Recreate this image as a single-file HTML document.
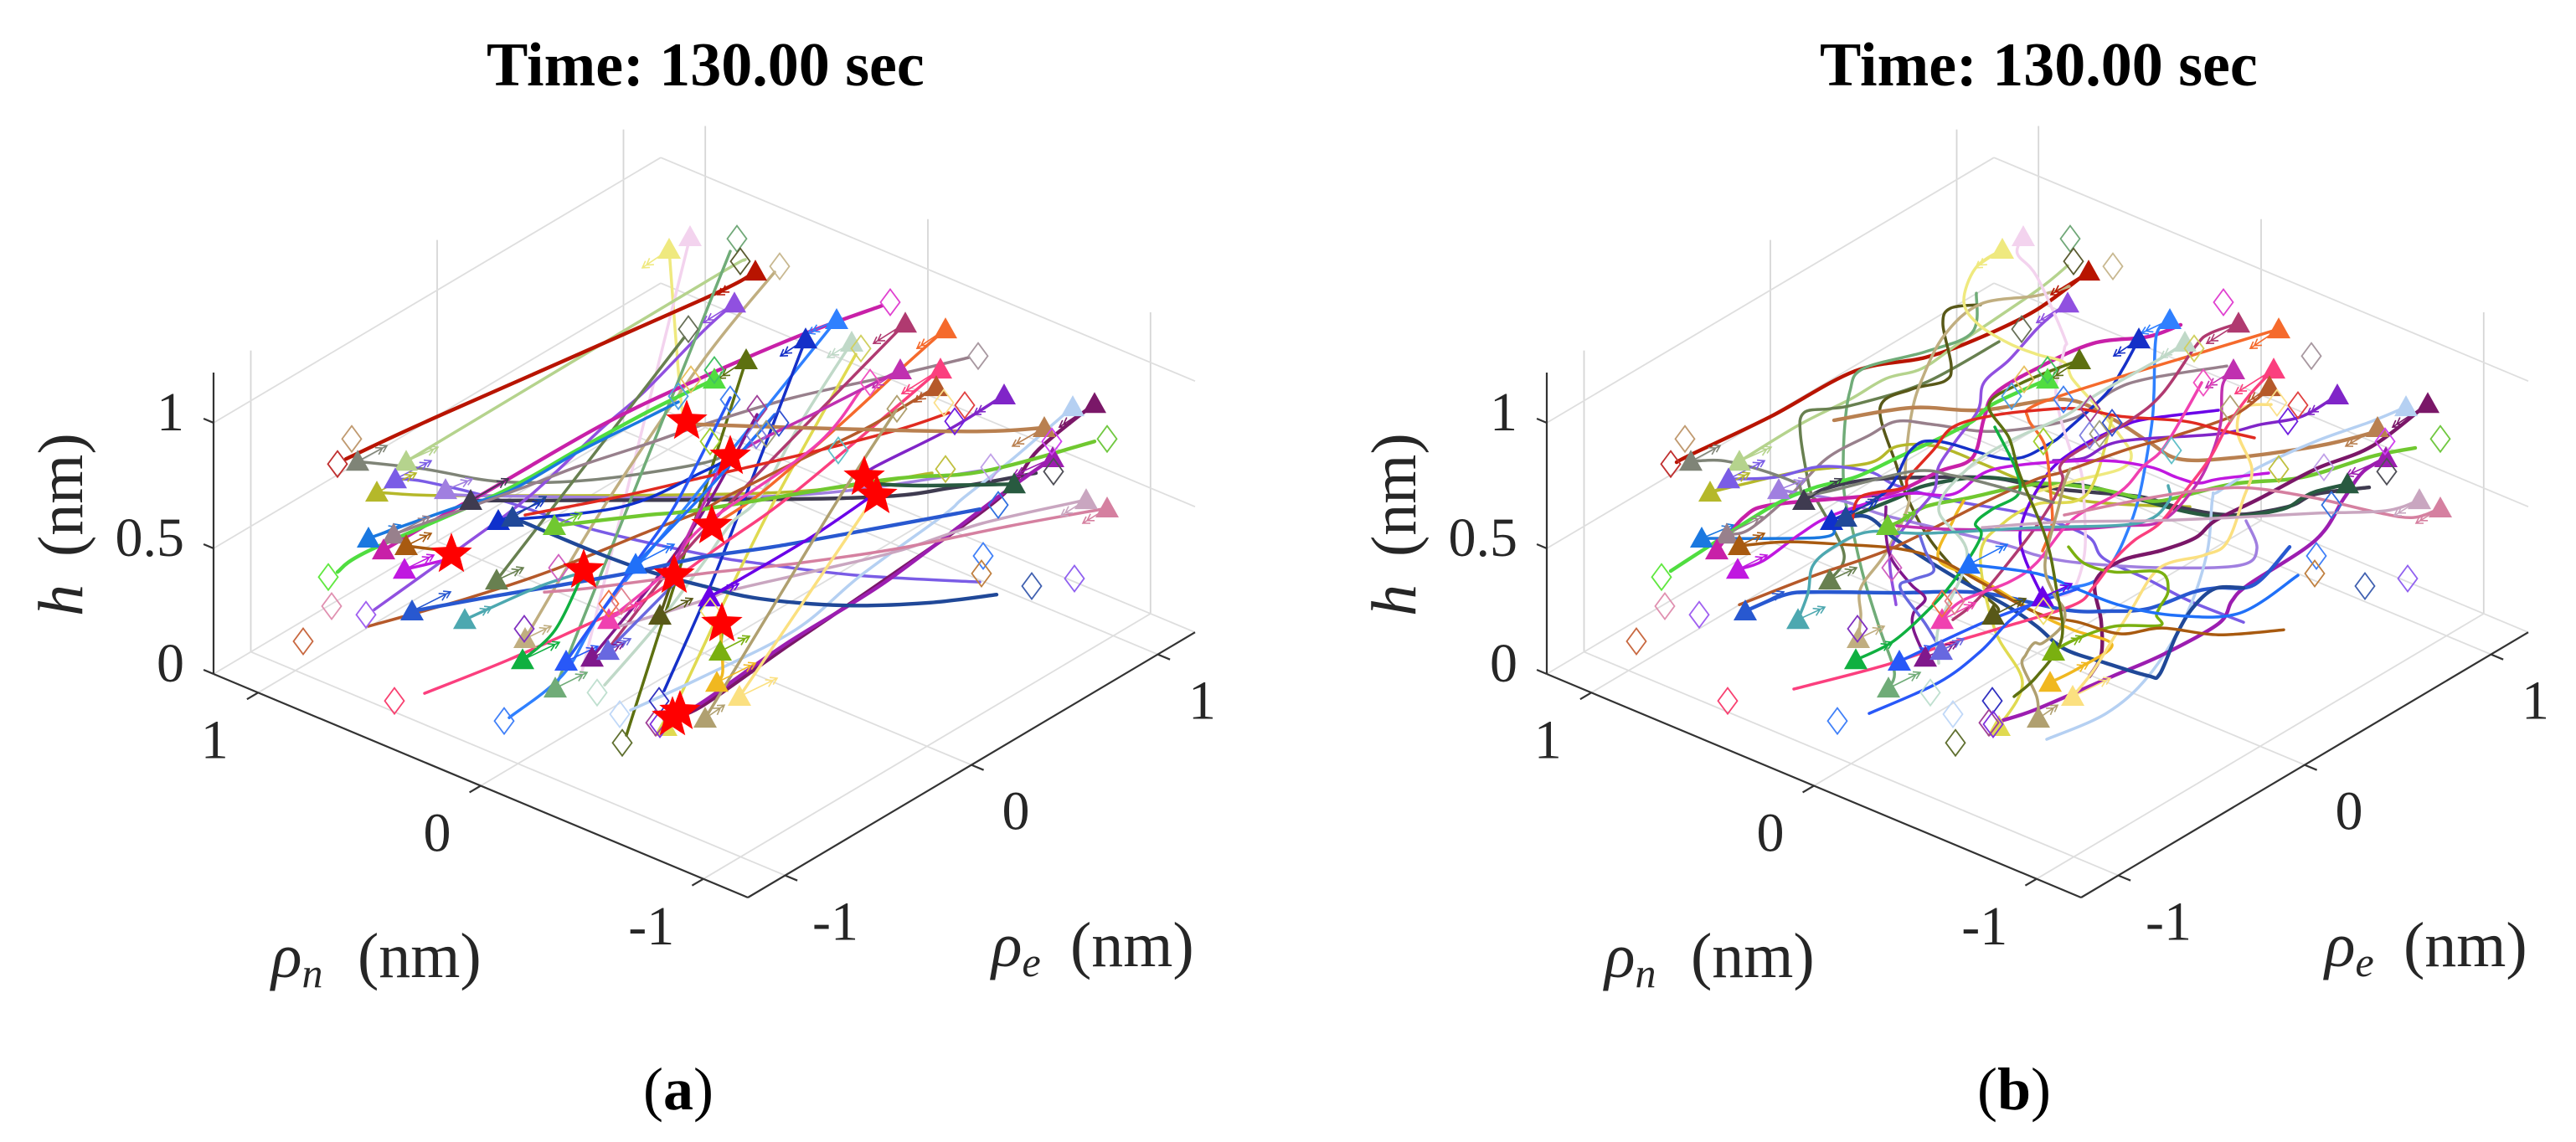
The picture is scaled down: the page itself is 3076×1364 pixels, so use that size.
<!DOCTYPE html>
<html lang="en">
<head>
<meta charset="utf-8">
<title>Time: 130.00 sec trajectories</title>
<style>
html,body{margin:0;padding:0;background:#fff}
svg{display:block}
text{font-family:"Liberation Serif",serif;fill:#262626}
.title{font-size:74px;font-weight:bold;fill:#000}
.axl{font-size:76px}
.sub{font-size:50px;font-style:italic}
.it{font-style:italic}
.tick{font-size:66px}
.cap{font-size:72px;fill:#000}
</style>
</head>
<body>
<svg id="figure" xmlns="http://www.w3.org/2000/svg" width="3076" height="1364" viewBox="0 0 3076 1364">
<rect width="3076" height="1364" fill="#fff"/>
<g id="panel-a"></g>
<g id="panel-b" transform="translate(1592,0)"></g>

<text class="title" x="581" y="102">Time: 130.00 sec</text>
<text class="axl" transform="translate(98,736) rotate(-90)"><tspan class="it">h</tspan><tspan x="71">(nm)</tspan></text>
<text class="axl" x="324" y="1167"><tspan class="it">ρ</tspan><tspan class="sub" dy="12">n</tspan><tspan x="427" dy="-12">(nm)</tspan></text>
<text class="axl" x="1184" y="1154"><tspan class="it">ρ</tspan><tspan class="sub" dy="12">e</tspan><tspan x="1278" dy="-12">(nm)</tspan></text>
<text class="cap" x="810" y="1325" text-anchor="middle">(<tspan font-weight="bold">a</tspan>)</text>

<g transform="translate(1592,0)">
<text class="title" x="581" y="102">Time: 130.00 sec</text>
<text class="axl" transform="translate(98,736) rotate(-90)"><tspan class="it">h</tspan><tspan x="71">(nm)</tspan></text>
<text class="axl" x="324" y="1167"><tspan class="it">ρ</tspan><tspan class="sub" dy="12">n</tspan><tspan x="427" dy="-12">(nm)</tspan></text>
<text class="axl" x="1184" y="1154"><tspan class="it">ρ</tspan><tspan class="sub" dy="12">e</tspan><tspan x="1278" dy="-12">(nm)</tspan></text>
<text class="cap" x="813" y="1325" text-anchor="middle">(<tspan font-weight="bold">b</tspan>)</text>
</g>
</svg>
<script>
// Values are estimated from a single 3D projection, so depth along the view ray cannot be read.
// Every point is stored on the view-aligned plane: s is the position across the view, h the height.
const nTicks=[1,0,-1];
const eTicks=[1,0,-1];
const hTicks=[0,0.5,1];
const nTickLabels=['1','0','-1'];
const eTickLabels=['1','0','-1'];
const hTickLabels=['0','0.5','1'];

const agentColors=['#efe97f','#f3d3ee','#7f8477','#b5d38d','#7a5ce6','#b5b82a','#a07fe0','#3f3b50','#b81400','#9050e0','#2f80ff','#1530c8','#c0d9c8','#5d7010','#50dd40','#b03a70','#f56a2c','#c030b0','#fb3f7e','#b5592a','#8025c8','#b5d0f2','#7a1768','#b98050','#9c1db0','#285a40','#c9a6c0','#d580a0','#0f30cc','#204898','#70c830','#1a78e0','#98808c','#c820a8','#a85a10','#c018e0','#688050','#2858d0','#4da8b0','#c0ae80','#10b040','#2858f8','#80188c','#6868e0','#70ac78','#f040b0','#585818','#2070f8','#e0da50','#b0a070','#6a00e8','#7ab010','#f0b820','#fbe080','#e02a20'];

const currentS=[-.084,-.034,-.828,-.712,-.738,-.782,-.618,-.558,.122,.072,.316,.242,.352,.10,.024,.48,.576,.468,.564,.554,.716,.88,.932,.812,.832,.74,.912,.962,-.492,-.458,-.358,-.802,-.742,-.766,-.712,-.716,-.496,-.698,-.572,-.428,-.434,-.33,-.268,-.23,-.356,-.228,-.106,-.164,-.092,.002,.012,.038,.03,.084];
const currentH=[1.607,1.657,.763,.763,.693,.64,.65,.607,1.52,1.393,1.327,1.25,1.237,1.167,1.09,1.313,1.29,1.127,1.13,1.06,1.027,.98,.993,.897,.777,.673,.61,.577,.527,.54,.507,.457,.473,.41,.427,.333,.29,.167,.133,.057,-.027,-.033,-.017,.01,-.14,.133,.15,.353,-.293,-.26,.223,.007,-.117,-.173];
const velS=[-.064,0,.07,.076,.086,.094,.064,.09,-.09,-.074,-.068,-.06,-.058,-.066,0,-.076,-.068,-.066,-.092,-.052,-.072,0,-.084,-.076,-.094,0,-.06,-.058,.11,.08,.066,.076,.086,0,.06,.07,.064,.092,.064,.062,.088,.076,.076,.054,.076,.08,.078,.092,0,.046,.07,.07,.092,.09];
const velH=[-.073,0,.063,.057,.073,.077,.043,.087,-.093,-.077,-.053,-.067,-.06,-.073,0,-.08,-.077,-.07,-.097,-.06,-.077,0,-.093,-.073,-.07,0,-.063,-.06,.08,.083,.05,.053,.07,0,.05,.057,.05,.077,.05,.05,.07,.06,.057,.047,.063,.067,.067,.08,0,.053,.053,.06,.077,.073];

const goalS=[-.842,-.876,-.038,-.032,-.062,.078,.086,.18,.444,.654,.374,.024,.062,.126,.396,.178,.124,.46,.572,.622,.598,.83,.014,.32,.962,.576,.684,.834,.148,-.898,-.89,-.808,-.958,-.348,-.228,-.198,-.43,-.74,-.478,-.256,-.202,-.108,-.196,-.116,-.106,.702,.666,.662,.782,.884,.014];
const goalH=[.853,.753,1.29,1.09,1.023,1.65,1.56,1.54,1.397,1.183,1.213,1.127,1.01,.973,1.077,.917,.867,.973,.997,.987,.923,.843,.843,.807,.853,.733,.74,.723,.873,.303,.187,.153,.047,.34,.197,.207,.097,-.19,-.27,-.157,-.243,-.19,-.357,-.277,-.283,.59,.387,.317,.267,.297,.167];
const goalColors=['#c09a70','#c03030','#687058','#e8c060','#50a0e0','#70a878','#5a5a30','#c8b890','#e040d0','#a898a0','#d0d060','#40c060','#4080f0','#a04098','#f050c0','#3050d0','#8080e0','#b0a070','#fbe08c','#e04040','#7020e0','#d040f0','#a0d030','#60c0c8','#70c840','#c0c040','#c0a0e8','#505058','#a0a080','#60e840','#e090b0','#a060f0','#c86840','#d060c0','#f07040','#e08090','#8030c0','#f84070','#4080f8','#c0e0d0','#c0d8f8','#3030c0','#607030','#a04098','#8030e0','#3070e0','#4080f8','#c08040','#4060b0','#9060f0','#f0e070'];

const starS=[-.042,.062,.382,.412,-.604,-.288,-.072,.018,.042,-.076,-.058];
const starH=[.923,.783,.70,.627,.393,.33,.31,.507,.117,-.257,-.233];

const thickAgents=[8,9,15,23,24,25,26,30,31,34,38];

const pathAgentA=[1,2,3,4,5,6,7,8,9,10,40,14,45,37,34,15,32,33,11,12,13,49,16,43,17,19,20,21,55,24,23,25,22,26,27,28,31,38,30,29,39,41,42,44,46,18,47,51,52,53,54,50,48,36,35];
const pathsA=[
[-.084,1.607,-.056,1.01,-.042,.923],
[-.034,1.657,-.296,-.10],
[-.828,.763,-.668,.733,-.488,.683,-.268,.69,-.002,.757,.062,.81],
[-.712,.763,-.002,1.473,.098,1.567],
[-.738,.693,-.668,.683,-.482,.607,-.268,.493,-.002,.393,.132,.357,.364,.31,.658,.283],
[-.782,.64,-.568,.627,.184,.64,.544,.717],
[-.618,.65,-.536,.627,.198,.627,.664,.727],
[-.558,.607,.332,.617,.598,.66,.792,.717],
[.122,1.52,-.002,1.41,-.636,.943,-.856,.773],
[.072,1.393,-.002,1.283,-.142,1.043,-.248,.89,-.416,.627,-.576,.427,-.788,.173],
[-.428,.057,-.236,.593,-.002,1.167,.168,1.517],
[.10,1.167,-.186,-.327],
[-.356,-.14,.062,1.6],
[-.496,.29,-.048,1.257],
[-.766,.41,-.588,.583,-.536,.627,-.242,.91,-.002,1.10,.232,1.267,.424,1.383],
[.024,1.09,-.128,.967,-.302,.81,-.482,.643,-.802,.407,-.876,.323],
[-.802,.457,-.588,.583,-.468,.643,-.302,.80,-.142,.933,-.062,1.0],
[-.742,.473,-.436,.657,-.302,.743,-.136,.833,-.002,.91,.212,1.017,.464,1.11,.632,1.177],
[.316,1.327,-.024,.623,-.242,.173,-.336,-.083,-.466,-.257],
[.242,1.25,.098,.623,.012,.257,-.096,-.15],
[.352,1.237,.232,.923,.132,.623,.064,.517,-.002,.36,-.116,.107,-.238,-.127],
[-.092,-.293,-.002,.027,.058,.24,.174,.627,.362,1.19],
[.48,1.313,.078,.627,-.082,.333,-.222,.033],
[-.268,-.017,-.042,.46,.126,.95],
[.576,1.29,.464,1.123,.318,.90,.132,.633,.018,.507],
[.564,1.13,.218,.643,.038,.427,-.148,.207,-.262,.127,-.468,-.027,-.668,-.16],
[.554,1.06,.392,.90,.238,.777,.064,.633,-.016,.56,-.136,.483,-.368,.327,-.568,.217,-.802,.107],
[.716,1.027,.584,.89,.398,.733,.388,.693],
[.584,.957,.464,.89,.232,.79,-.002,.70,-.202,.623,-.428,.55],
[.812,.897,.598,.883,-.002,.91,-.042,.923],
[.932,.993,.798,.81,.704,.617,.432,.293,.198,.027,-.002,-.207,-.076,-.257],
[.832,.777,.692,.61,.432,.283,.198,.04,-.002,-.193,-.062,-.25],
[.88,.98,.732,.767,.618,.617,.572,.55,.372,.307,.218,.093,-.002,-.093,-.176,-.227],
[.74,.673,.518,.667,.418,.673],
[.912,.61,.664,.517,.464,.407,.264,.327,.064,.25,-.002,.21,-.202,.107],
[.962,.577,.732,.507,.464,.417,.232,.36,-.002,.317,-.268,.26,-.382,.243],
[-.358,.507,-.136,.55,-.002,.573,.432,.69,.664,.723,.932,.843],
[-.698,.167,-.502,.227,-.336,.273,-.168,.323,-.002,.383,.164,.423,.398,.493,.658,.573],
[-.458,.54,-.268,.407,-.136,.327,-.002,.267,.132,.217,.332,.19,.532,.20,.698,.233],
[-.492,.527,-.196,.583,-.002,.723,.062,.777],
[-.572,.133,-.402,.26,-.288,.323],
[-.434,-.027,-.356,.093,-.288,.323],
[-.33,-.033,-.168,.35,-.068,.593,.062,1.017],
[-.23,.01,-.068,.283],
[-.228,.133,-.096,.317,-.002,.507,.264,.823,.372,1.043],
[.468,1.127,.278,.967,.064,.777,-.002,.593,-.076,.34],
[-.106,.15,-.078,.283],
[.012,.223,.244,.45,.392,.617],
[.038,.007,.044,.107],
[.03,-.117,.044,-.073,.038,.093],
[.084,-.173,.238,.207,.404,.617],
[.002,-.26,.172,.207,.318,.607,.458,.967],
[-.164,.353,-.002,.633,.168,.95],
[-.716,.333,-.602,.377],
[-.712,.427,-.616,.407]
];

const pathAgentB=[9,4,45,37,47,40,24,33,6,5,7,8,26,31,34,10,15,32,12,2,1,49,11,22,23,25,21,51,36,38,30,53,54,52,35,20,17,55,16,18,19,46,43,44,13,39,41,42,48,42,28,27,3,50,14];
const pathsB=[
[.122,1.52,-.002,1.367,-.136,1.257,-.268,1.177,-.436,1.123,-.636,.943,-.828,.79,-.862,.76],
[-.712,.763,-.568,.91,-.448,1.01,-.362,1.093,-.276,1.133,-.188,1.233,-.002,1.443,.072,1.543],
[-.146,1.433,-.156,1.277,-.268,1.20,-.416,1.133,-.448,1.043,-.462,.867,-.462,.643,-.442,.493,-.416,.307,-.376,.093,-.342,-.073,-.356,-.14],
[-.092,1.24,-.268,1.077,-.436,.99,-.496,.973,-.558,.957,-.566,.867,-.542,.643,-.522,.593,-.462,.393,-.496,.29],
[-.136,1.387,-.208,1.373,-.226,1.31,-.206,1.143,-.222,1.083,-.302,1.05,-.376,.977,-.336,.743,-.312,.623,-.256,.45,-.168,.283,-.096,.183,-.106,.15],
[.076,1.46,-.002,1.423,-.136,1.39,-.222,1.267,-.276,1.09,-.302,.943,-.316,.723,-.308,.593,-.362,.40,-.422,.26,-.422,.15,-.428,.057],
[-.486,.927,-.302,.977,-.136,.967,.064,1.01,.178,.933,.264,.843,.338,.773,.464,.777,.664,.823,.798,.877,.812,.897],
[.452,1.143,.264,1.093,.178,1.043,.084,.933,-.102,.883,-.248,.91,-.336,.923,-.402,.867,-.502,.777,-.588,.633,-.688,.493,-.742,.473],
[-.782,.64,-.702,.673,-.568,.723,-.402,.757,-.336,.823,-.242,.823,-.136,.757,-.042,.69,.078,.617,.198,.593,.364,.583],
[-.738,.693,-.628,.70,-.516,.743,-.402,.723,-.336,.667,-.202,.607,-.016,.55,.118,.467,.158,.377,.264,.293,.364,.207,.492,.123],
[-.618,.65,-.468,.607,-.368,.55,-.202,.483,-.068,.427,-.002,.39,.098,.36,.298,.34,.484,.35,.524,.417,.498,.527],
[-.558,.607,-.502,.657,-.382,.693,-.136,.70,-.036,.677,.064,.65,.244,.623,.332,.583,.464,.55,.598,.583,.664,.633,.792,.66],
[.74,.673,.664,.643,.632,.617,.584,.573,.464,.543,.364,.56,.232,.617,.112,.667,-.002,.677,-.136,.70,-.268,.667,-.336,.617,-.436,.55],
[-.358,.507,-.336,.517,-.268,.583,-.168,.617,-.002,.673,.132,.657,.232,.623,.298,.607,.464,.673,.632,.70,.798,.783,.902,.817],
[.342,1.307,.264,1.26,.132,1.233,-.002,1.133,-.102,1.033,-.128,.933,-.156,.777,-.236,.723,-.336,.643,-.422,.623,-.636,.59,-.702,.54,-.766,.41],
[.072,1.393,.038,1.35,-.002,1.29,-.068,1.167,-.128,1.077,-.142,.967,-.196,.843,-.236,.743,-.248,.643,-.302,.533,-.352,.40,-.338,.193],
[.024,1.09,-.108,.99,-.168,.91,-.336,.777,-.436,.70,-.536,.657,-.636,.583,-.802,.407,-.876,.327],
[-.802,.457,-.522,.46,-.482,.50,-.458,.517],
[.242,1.25,.204,1.133,.164,1.033,.078,.90,.028,.833,-.068,.773,-.236,.843,-.302,.81,-.362,.643,-.492,.527],
[-.034,1.657,-.048,1.59,-.002,1.50,.064,1.257,.064,1.21,.044,1.033,.078,.81,.104,.723,.112,.573,.112,.393,.084,.25,.038,.227],
[-.084,1.607,-.148,1.533,-.176,1.40,-.142,1.31,-.068,1.233,-.002,1.19,.064,1.157,.084,1.09,.144,.977,.192,.877,.224,.79,.198,.733,.098,.69,-.002,.643],
[-.092,-.293,-.036,-.117,-.102,.093,-.136,.393,-.082,.517,-.002,.593,.118,.633,.178,.933],
[.316,1.327,.284,1.267,.278,1.033,.272,.90,.244,.633,.212,.473,.178,.36,.132,.283,.064,.257],
[.88,.98,.798,.923,.664,.843,.532,.743,.432,.643,.418,.617,.404,.393,.352,.14,.264,-.093,.164,-.24,.022,-.343],
[.932,.993,.798,.823,.664,.733,.532,.617,.424,.527,.378,.46,.298,.41,.198,.367,.138,.283,.152,.127,.152,-.007,.124,-.093],
[.832,.777,.778,.723,.732,.617,.664,.45,.504,.273,.464,.207,.432,.117,.298,-.007,.178,-.093,-.002,-.223,-.082,-.267],
[.716,1.027,.632,.943,.532,.91,.432,.873,.198,.843,.112,.777,.038,.767],
[.432,.967,.264,.933,.198,.90,.098,.817,.018,.70,-.042,.467,.012,.223],
[-.716,.333,-.656,.367,-.568,.473,-.488,.55,-.322,.633,-.202,.633,-.102,.733,.132,.767,.264,.743,.332,.70,.384,.677,.432,.693,.552,.717],
[-.698,.167,-.602,.233,-.522,.243,-.336,.24,-.136,.24,.064,.173,.164,.167,.264,.177,.372,.243,.432,.26,.518,.273,.602,.423],
[-.458,.54,-.402,.54,-.336,.45,-.202,.307,-.068,.183,-.002,.107,.064,.017,.164,-.04,.264,-.09,.292,-.083,.332,.073,.372,.183,.424,.257,.492,.26],
[.03,-.117,.098,-.06,.178,.033,.084,.093,-.002,.16,-.136,.293,-.236,.373,-.202,.527,-.176,.607],
[.084,-.173,.132,-.073,.178,.05,.224,.173,.292,.34,.398,.39,.452,.44,.492,.617,.512,.733,.478,.877,.492,.977,.558,.99],
[.038,.007,.084,.05,.184,.107,.292,.11,.284,.15,.292,.183,.312,.25,.292,.323,.184,.323,.112,.357,.074,.423],
[-.712,.427,-.602,.443,-.468,.433,-.336,.417,-.236,.373,-.136,.283,-.002,.16,.098,.123,.198,.077,.298,.10,.432,.073,.588,.093],
[.554,1.06,.532,1.023,.464,.943,.332,.867,.212,.81,.064,.723,-.002,.693,-.136,.593,-.348,.417,-.536,.307,-.712,.193],
[.576,1.29,.398,1.20,.198,1.10,-.002,.99,-.022,.933,.018,.823,.032,.623,.034,.507,.012,.407],
[.518,.857,.432,.89,.352,.923,.198,.943,.098,.973,-.002,.967,-.116,.943,-.202,.90,-.248,.81,-.308,.70,-.322,.657,-.422,.623,-.442,.533],
[.48,1.313,.412,1.273,.378,1.223,.298,1.033,.218,.923,.064,.767,.058,.677,-.002,.507,-.136,.227,-.202,.133],
[.468,1.127,.442,1.067,.438,.923,.418,.80,.378,.667,.298,.527,.198,.507,.064,.493,-.202,.493,-.336,.507],
[.564,1.13,.504,1.023,.452,.90,.412,.777,.352,.643,.292,.517,.232,.45,.184,.373,.132,.26,.084,.19,-.102,.093,-.208,.04,-.368,-.05,-.582,-.143],
[.392,1.077,.352,.957,.298,.81,.252,.743,.198,.643,.084,.533,-.002,.36,-.068,.283,-.182,.207,-.228,.133],
[-.268,-.017,-.296,.093,-.296,.16,-.268,.217,-.302,.273,-.348,.373,-.362,.473,-.362,.583],
[-.23,.01,-.268,.117,-.328,.26,-.296,.293,-.248,.327,-.268,.407,-.282,.473],
[.352,1.237,.298,1.177,.144,1.033,.064,.943,-.068,.843,-.168,.733,-.236,.573,-.168,.393,-.236,.107,-.236,-.04],
[-.572,.133,-.548,.24,-.536,.35,-.482,.427,-.402,.483,-.268,.477,-.002,.50,.238,.517,.312,.60,.312,.667],
[-.434,-.027,-.348,.043,-.268,.16,-.202,.283,-.136,.46,-.148,.517,-.108,.573,-.046,.633,-.052,.733,-.102,.90],
[-.402,-.24,-.236,-.117,-.136,.007,-.068,.127,-.002,.207,.078,.267],
[-.164,.353,-.002,.317,.092,.257,.198,.19,.332,.15,.484,.16,.622,.31],
[-.33,-.033,-.136,.117,-.016,.193,.098,.257],
[.962,.577,.898,.54,.812,.56,.664,.617,.512,.657,.398,.65,.264,.617,.064,.55],
[.912,.61,.832,.567,.664,.557,.464,.54,.264,.527,.064,.523,-.132,.50],
[-.828,.763,-.756,.767,-.668,.733,-.576,.677,-.536,.633,-.302,.723,-.202,.707,-.102,.667,.038,.60],
[.002,-.26,-.002,-.173,-.036,-.05,-.028,-.007,-.008,.04,.012,.04,.058,.107,.064,.173,.038,.24,.018,.36,.052,.593,.064,.677,.078,.733],
[.10,1.167,-.036,1.077,-.116,.99,-.068,.857,-.042,.71,.018,.467,.044,.267,.058,.06,-.002,-.093,-.056,-.173]
];

const NS='http://www.w3.org/2000/svg';
const LIM=1.2;
function xPx(n,e){return 841-265.8*n+222.5*e;}
function yPx(n,e,h){return 780.1-111.25*n-132*e-300*h;}
function rhoE(s){return 0.9295*s;}
function rhoN(s){return -1.1029*s;}
function sx(s){return xPx(rhoN(s),rhoE(s));}
function sy(s,h){return yPx(rhoN(s),rhoE(s),h);}

function axisLine(parent,name,a,b,color,width){
  const el=document.createElementNS(NS,'line');
  
  
  el.setAttribute('x1',xPx(a[0],a[1]).toFixed(1));
  el.setAttribute('y1',yPx(a[0],a[1],a[2]).toFixed(1));
  el.setAttribute('x2',xPx(b[0],b[1]).toFixed(1));
  el.setAttribute('y2',yPx(b[0],b[1],b[2]).toFixed(1));
  el.setAttribute('stroke',color);
  el.setAttribute('stroke-width',width);
  parent.appendChild(el);
}
function tickLabel(parent,name,label,x,y,anchor){
  const el=document.createElementNS(NS,'text');
  
  
  el.setAttribute('class','tick');
  el.setAttribute('x',x.toFixed(1));
  el.setAttribute('y',y.toFixed(1));
  el.setAttribute('text-anchor',anchor);
  el.textContent=label;
  parent.appendChild(el);
}
function smoothPath(flat){
  const pts=[];
  for(let i=0;i<flat.length;i+=2){pts.push([sx(flat[i]),sy(flat[i],flat[i+1])]);}
  let d='M'+pts[0][0].toFixed(1)+' '+pts[0][1].toFixed(1);
  for(let i=0;i<pts.length-1;i++){
    const p0=pts[Math.max(i-1,0)],p1=pts[i],p2=pts[i+1],p3=pts[Math.min(i+2,pts.length-1)];
    const c1x=p1[0]+(p2[0]-p0[0])/6,c1y=p1[1]+(p2[1]-p0[1])/6;
    const c2x=p2[0]-(p3[0]-p1[0])/6,c2y=p2[1]-(p3[1]-p1[1])/6;
    d+='C'+c1x.toFixed(1)+' '+c1y.toFixed(1)+' '+c2x.toFixed(1)+' '+c2y.toFixed(1)+' '+p2[0].toFixed(1)+' '+p2[1].toFixed(1);
  }
  return d;
}
function drawAxes(g){
  const gridColor='#dedede';
  [-1,0,1].forEach(function(v){
    axisLine(g,'floor-grid-line-n',[v,-LIM,0],[v,LIM,0],gridColor,1.8);
    axisLine(g,'floor-grid-line-e',[-LIM,v,0],[LIM,v,0],gridColor,1.8);
    axisLine(g,'wall-grid-vertical',[LIM,v,0],[LIM,v,LIM],'#d6d6d6',1.8);
    axisLine(g,'wall-grid-vertical',[v,LIM,0],[v,LIM,LIM],'#d6d6d6',1.8);
  });
  hTicks.forEach(function(v){
    axisLine(g,'wall-grid-horizontal',[LIM,-LIM,v],[LIM,LIM,v],gridColor,1.8);
    axisLine(g,'wall-grid-horizontal',[LIM,LIM,v],[-LIM,LIM,v],gridColor,1.8);
  });
  axisLine(g,'rho-n-axis',[LIM,-LIM,0],[-LIM,-LIM,0],'#333',2.2);
  axisLine(g,'rho-e-axis',[-LIM,-LIM,0],[-LIM,LIM,0],'#333',2.2);
  axisLine(g,'h-axis',[LIM,-LIM,0],[LIM,-LIM,LIM],'#333',2.2);
  nTicks.forEach(function(v,i){
    axisLine(g,'rho-n-tick',[v,-LIM,0],[v,-LIM-0.06,0],'#333',2.2);
    const off=nTickLabels[i]==='-1'?-62:-52;
    tickLabel(g,'rho-n-tick-label',nTickLabels[i],xPx(v,-LIM)+off,yPx(v,-LIM,0)+78,'middle');
  });
  eTicks.forEach(function(v,i){
    axisLine(g,'rho-e-tick',[-LIM,v,0],[-LIM-0.055,v,0],'#333',2.2);
    const off=eTickLabels[i]==='-1'?60:53;
    tickLabel(g,'rho-e-tick-label',eTickLabels[i],xPx(-LIM,v)+off,yPx(-LIM,v,0)+77,'middle');
  });
  hTicks.forEach(function(v,i){
    axisLine(g,'h-tick',[LIM,-LIM,v],[LIM+0.045,-LIM,v],'#333',2.2);
    tickLabel(g,'h-tick-label',hTickLabels[i],xPx(LIM,-LIM)-35,yPx(LIM,-LIM,v)+9,'end');
  });
}
function drawPaths(g,paths,agents){
  paths.forEach(function(flat,i){
    const a=agents[i];
    const el=document.createElementNS(NS,'path');
    
    
    el.setAttribute('d',smoothPath(flat));
    el.setAttribute('fill','none');
    el.setAttribute('stroke',agentColors[a-1]);
    el.setAttribute('stroke-width',thickAgents.indexOf(a)>=0?4.4:3.5);
    el.setAttribute('stroke-linecap','round');
    g.appendChild(el);
  });
}
function drawArrows(g){
  currentS.forEach(function(s,i){
    if(velS[i]===0&&velH[i]===0){return;}
    const x0=sx(s),y0=sy(s,currentH[i]);
    const x1=sx(s+velS[i]),y1=sy(s+velS[i],currentH[i]+velH[i]);
    const ang=Math.atan2(y1-y0,x1-x0);
    let d='M'+x0.toFixed(1)+' '+y0.toFixed(1)+'L'+x1.toFixed(1)+' '+y1.toFixed(1);
    [0,6].forEach(function(back){
      const bx=x1-back*Math.cos(ang),by=y1-back*Math.sin(ang);
      const ax=bx-9*Math.cos(ang-0.55),ay=by-9*Math.sin(ang-0.55);
      const cx=bx-9*Math.cos(ang+0.55),cy=by-9*Math.sin(ang+0.55);
      d+='M'+ax.toFixed(1)+' '+ay.toFixed(1)+'L'+bx.toFixed(1)+' '+by.toFixed(1)+'L'+cx.toFixed(1)+' '+cy.toFixed(1);
    });
    const el=document.createElementNS(NS,'path');
    
    
    el.setAttribute('d',d);
    el.setAttribute('fill','none');
    el.setAttribute('stroke',agentColors[i]);
    el.setAttribute('stroke-width',1.6);
    g.appendChild(el);
  });
}
function drawTriangles(g){
  currentS.forEach(function(s,i){
    const x=sx(s),y=sy(s,currentH[i]);
    const el=document.createElementNS(NS,'polygon');
    
    
    el.setAttribute('points',[x,y-14,x+14,y+11,x-14,y+11].map(function(v){return v.toFixed(1);}).join(' '));
    el.setAttribute('fill',agentColors[i]);
    g.appendChild(el);
  });
}
function drawGoals(g){
  goalS.forEach(function(s,i){
    const x=sx(s),y=sy(s,goalH[i]);
    const el=document.createElementNS(NS,'polygon');
    
    
    el.setAttribute('points',[x,y-15.5,x+11.5,y,x,y+15.5,x-11.5,y].map(function(v){return v.toFixed(1);}).join(' '));
    el.setAttribute('fill','none');
    el.setAttribute('stroke',goalColors[i]);
    el.setAttribute('stroke-width',1.8);
    g.appendChild(el);
  });
}
function drawStars(g){
  starS.forEach(function(s,i){
    const x=sx(s),y=sy(s,starH[i]);
    const pts=[];
    for(let k=0;k<10;k++){
      const r=k%2===0?26:11;
      const a=-Math.PI/2+k*Math.PI/5;
      pts.push((x+r*Math.cos(a)).toFixed(1)+' '+(y+r*Math.sin(a)).toFixed(1));
    }
    const el=document.createElementNS(NS,'polygon');
    
    
    el.setAttribute('points',pts.join(' '));
    el.setAttribute('fill','#ff0000');
    g.appendChild(el);
  });
}
const panelA=document.getElementById('panel-a');
const panelB=document.getElementById('panel-b');
drawAxes(panelA);
drawAxes(panelB);
drawPaths(panelA,pathsA,pathAgentA);
drawPaths(panelB,pathsB,pathAgentB);
drawArrows(panelA);
drawArrows(panelB);
drawTriangles(panelA);
drawTriangles(panelB);
drawGoals(panelA);
drawGoals(panelB);
drawStars(panelA);
</script>
</body>
</html>
